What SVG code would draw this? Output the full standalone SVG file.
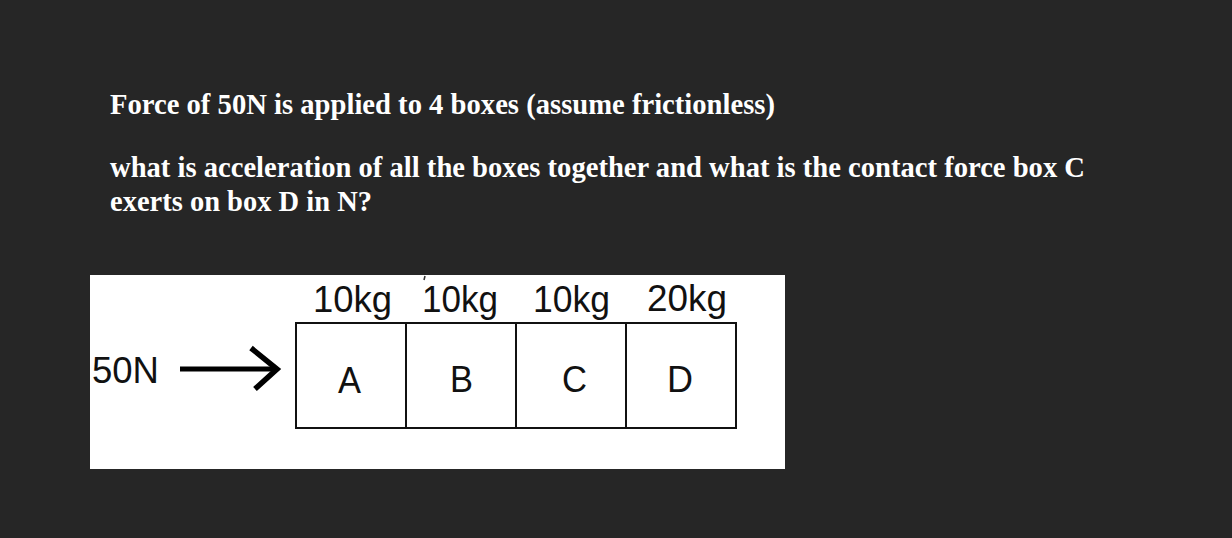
<svg xmlns="http://www.w3.org/2000/svg" width="1232" height="538" viewBox="0 0 1232 538">
<style>
.q{font-family:"Liberation Serif","Times New Roman",serif;font-weight:bold;font-size:28.6px;fill:#ffffff}
.s{font-family:"Liberation Sans",Arial,sans-serif;font-size:36px;fill:#111}
.l{font-family:"Liberation Sans",Arial,sans-serif;font-size:37px;fill:#111}
.box{fill:#fff;stroke:#111;stroke-width:2}
</style>
<rect width="1232" height="538" fill="#262626"/>
<text class="q" x="110" y="114" textLength="665" lengthAdjust="spacingAndGlyphs">Force of 50N is applied to 4 boxes (assume frictionless)</text>
<text class="q" x="110" y="177" textLength="975" lengthAdjust="spacingAndGlyphs">what is acceleration of all the boxes together and what is the contact force box C</text>
<text class="q" x="110" y="211" textLength="262" lengthAdjust="spacingAndGlyphs">exerts on box D in N?</text>
<rect x="90" y="275" width="695" height="194" fill="#ffffff"/>
<path d="M425 276 L424 280" stroke="#333" stroke-width="1.5"/>
<g id="force">
<text class="s" x="92" y="383" textLength="67" lengthAdjust="spacingAndGlyphs">50N</text>
</g>
<g id="connectors">
<path d="M180 369 H276" stroke="#000" stroke-width="5" fill="none"/>
<path d="M251 348 L277 369 L255 389" stroke="#000" stroke-width="5.5" fill="none" stroke-linejoin="miter"/>
</g>
<g id="boxA"><rect class="box" x="296" y="323" width="110" height="105"/><text class="l" x="338" y="393" textLength="23" lengthAdjust="spacingAndGlyphs">A</text><text class="s" x="313" y="312" textLength="79" lengthAdjust="spacingAndGlyphs">10kg</text></g>
<g id="boxB"><rect class="box" x="406" y="323" width="110" height="105"/><text class="l" x="450" y="392" textLength="23" lengthAdjust="spacingAndGlyphs">B</text><text class="s" x="422" y="312" textLength="76" lengthAdjust="spacingAndGlyphs">10kg</text></g>
<g id="boxC"><rect class="box" x="516" y="323" width="110" height="105"/><text class="l" x="562" y="392" textLength="25" lengthAdjust="spacingAndGlyphs">C</text><text class="s" x="533" y="312" textLength="77" lengthAdjust="spacingAndGlyphs">10kg</text></g>
<g id="boxD"><rect class="box" x="626" y="323" width="110" height="105"/><text class="l" x="667" y="392" textLength="26" lengthAdjust="spacingAndGlyphs">D</text><text class="s" x="647" y="311" textLength="80" lengthAdjust="spacingAndGlyphs">20kg</text></g>
</svg>
